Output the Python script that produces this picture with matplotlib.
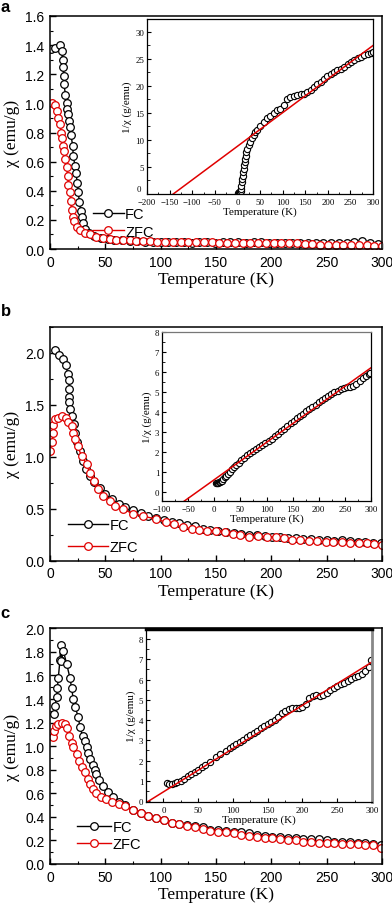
import numpy as np
import matplotlib
matplotlib.use("Agg")
import matplotlib.pyplot as plt
from matplotlib.ticker import MultipleLocator

# ---- panel a : chi(T) ----
a_fc_T = [1, 4.5, 9, 10.5, 11.4, 12, 12.3, 12.6, 14, 15, 15.3, 16.6, 17.2, 18, 19, 20.5, 21, 22.6, 23.5, 24.7,
          25.6, 26.5, 28, 28.6, 30, 32, 35, 40, 46, 52, 58, 65, 72, 79, 86, 93, 100, 107, 114, 121,
          128, 135, 142, 149, 156, 163, 170, 177, 184, 191, 198, 205, 212, 219, 226, 233, 240, 247, 254, 261,
          268, 275, 282, 289, 296]
a_fc_chi = [1.37, 1.38, 1.40, 1.36, 1.30, 1.25, 1.19, 1.13, 1.06, 1.00, 0.96, 0.93, 0.88, 0.84, 0.78, 0.71, 0.64, 0.57, 0.52, 0.45,
            0.39, 0.32, 0.26, 0.22, 0.18, 0.14, 0.11, 0.09, 0.075, 0.07, 0.065, 0.06, 0.058, 0.055, 0.05, 0.048, 0.046, 0.045, 0.045, 0.046,
            0.044, 0.045, 0.046, 0.044, 0.045, 0.046, 0.045, 0.044, 0.045, 0.046, 0.044, 0.043, 0.044, 0.042, 0.043, 0.041, 0.040, 0.041, 0.040, 0.042,
            0.043, 0.048, 0.052, 0.040, 0.036]
a_zfc_T = [1.5, 4.5, 6, 7.5, 9, 10, 10.5, 12, 13, 14, 15, 16, 16.6, 18, 18.6, 19.5, 20.5, 21.7, 24, 27,
           32, 36, 42, 48, 54, 60, 66, 72, 78, 84, 90, 97, 104, 111, 118, 125, 132, 139, 146, 153,
           160, 167, 174, 181, 188, 195, 202, 209, 216, 223, 230, 237, 244, 251, 258, 265, 272, 279, 286, 293, 300]
a_zfc_chi = [1.00, 0.99, 0.95, 0.90, 0.86, 0.80, 0.76, 0.71, 0.67, 0.62, 0.56, 0.50, 0.44, 0.39, 0.33, 0.27, 0.22, 0.19, 0.15, 0.13,
             0.11, 0.10, 0.085, 0.075, 0.07, 0.065, 0.062, 0.06, 0.058, 0.055, 0.052, 0.05, 0.048, 0.048, 0.047, 0.046, 0.046, 0.045, 0.045, 0.044,
             0.044, 0.043, 0.043, 0.042, 0.042, 0.041, 0.041, 0.040, 0.040, 0.038, 0.036, 0.034, 0.030, 0.027, 0.026, 0.026, 0.025, 0.026, 0.025, 0.024, 0.024]
# inset a : 1/chi
a_inv_T = [2, 4, 6, 7, 8, 9, 10, 11, 12, 13, 14, 15, 16, 17, 18, 20, 22, 25, 28, 32,
           36, 40, 44, 50, 58, 66, 73, 80, 88, 95, 102, 110, 117, 125, 132, 140, 147, 155, 162, 170,
           177, 184, 191, 199, 206, 213, 221, 229, 236, 244, 251, 258, 266, 273, 281, 288, 295, 299]
a_inv = [0.1, 0.3, 0.4, 0.6, 1.0, 1.5, 2.2, 2.8, 3.4, 4.0, 4.6, 5.3, 5.9, 6.5, 7.0, 7.8, 8.4, 9.0, 9.6, 10.3,
         10.9, 11.5, 11.9, 12.5, 13.4, 14.0, 14.5, 15.0, 15.5, 15.8, 16.5, 17.6, 17.9, 18.2, 18.4, 18.5, 18.5, 18.8, 19.2, 19.8,
         20.3, 20.8, 21.3, 21.9, 22.3, 22.6, 22.9, 23.2, 23.5, 24.0, 24.5, 24.8, 25.1, 25.4, 25.7, 25.9, 26.1, 26.3]
a_fit = (0.0622, -142)  # slope, x-intercept

# ---- panel b ----
b_fc_T = [4.5, 8.4, 12, 14.5, 16, 17, 17.5, 17, 17.5, 18, 19.6, 21.7, 22.6, 24, 27, 30, 32.5, 36, 40, 45,
          50, 56, 62, 68, 75, 82, 89, 96, 103, 110, 117, 124, 131, 138, 145, 152, 159, 166, 173, 180,
          187, 194, 201, 208, 215, 222, 229, 236, 243, 250, 257, 264, 271, 278, 285, 292, 299]
b_fc_chi = [2.025, 1.98, 1.94, 1.88, 1.80, 1.74, 1.65, 1.58, 1.53, 1.46, 1.39, 1.32, 1.23, 1.14, 1.06, 0.96, 0.88, 0.82, 0.76, 0.70,
            0.64, 0.59, 0.55, 0.52, 0.49, 0.46, 0.43, 0.41, 0.39, 0.37, 0.36, 0.34, 0.33, 0.31, 0.30, 0.29, 0.28, 0.27, 0.26, 0.25,
            0.25, 0.24, 0.23, 0.23, 0.22, 0.22, 0.21, 0.21, 0.20, 0.20, 0.19, 0.20, 0.19, 0.18, 0.18, 0.17, 0.17]
b_zfc_T = [0, 1.5, 3, 3, 4.5, 7.5, 10.5, 14.5, 16.5, 19.6, 21, 22.6, 25, 28.5, 33, 36, 39.8, 43.7, 48, 54,
           58.7, 66, 75, 84, 96, 105, 112, 120, 128, 135, 142, 150, 158, 165, 172, 180, 188, 196, 204, 211,
           219, 226, 234, 241, 249, 256, 264, 271, 279, 286, 293, 300]
b_zfc_chi = [1.06, 1.14, 1.23, 1.31, 1.36, 1.37, 1.39, 1.37, 1.34, 1.30, 1.23, 1.17, 1.10, 1.01, 0.93, 0.84, 0.77, 0.69, 0.62, 0.57,
             0.53, 0.50, 0.45, 0.43, 0.40, 0.37, 0.35, 0.32, 0.31, 0.30, 0.29, 0.29, 0.28, 0.26, 0.25, 0.23, 0.24, 0.23, 0.23, 0.22,
             0.20, 0.20, 0.19, 0.19, 0.18, 0.18, 0.18, 0.17, 0.17, 0.17, 0.16, 0.15]
b_inv_T = [3, 5, 7, 9, 11, 13, 15, 17, 20, 23, 26, 30, 34, 38, 42, 47, 52, 57, 62, 68,
           74, 80, 86, 92, 98, 104, 110, 116, 122, 128, 134, 140, 146, 152, 158, 164, 170, 176, 182, 188,
           194, 200, 206, 212, 218, 224, 230, 236, 242, 248, 254, 260, 266, 272, 278, 284, 290, 296, 299]
b_inv = [0.45, 0.42, 0.45, 0.48, 0.50, 0.52, 0.55, 0.62, 0.72, 0.80, 0.88, 1.0, 1.12, 1.22, 1.32, 1.45, 1.58, 1.70, 1.82, 1.95,
         2.05, 2.15, 2.25, 2.35, 2.45, 2.55, 2.65, 2.78, 2.90, 3.02, 3.15, 3.28, 3.42, 3.55, 3.67, 3.78, 3.90, 4.02, 4.12, 4.25,
         4.35, 4.48, 4.58, 4.68, 4.78, 4.88, 4.97, 5.05, 5.12, 5.20, 5.24, 5.26, 5.30, 5.40, 5.55, 5.68, 5.80, 5.90, 5.96]
b_fit = (0.0187, -32)

# ---- panel c ----
c_fc_T = [3.9, 4.5, 6, 6.6, 7.5, 9, 9.6, 10.2, 12, 15, 18, 19.6, 21, 22.6, 25.6, 27, 29.4, 31.6, 33, 34.5,
          36, 39, 40.6, 42, 44.5, 48, 52, 57, 62, 68, 75, 82, 89, 96, 103, 110, 117, 124, 131, 138,
          145, 152, 159, 166, 173, 180, 187, 194, 201, 208, 215, 222, 229, 236, 243, 250, 257, 264, 271, 278,
          285, 292, 299]
c_fc_chi = [1.27, 1.34, 1.42, 1.49, 1.58, 1.73, 1.86, 1.72, 1.81, 1.70, 1.58, 1.49, 1.40, 1.33, 1.25, 1.16, 1.09, 1.04, 0.99, 0.94,
            0.89, 0.84, 0.80, 0.76, 0.71, 0.66, 0.61, 0.57, 0.53, 0.50, 0.46, 0.43, 0.41, 0.39, 0.37, 0.35, 0.34, 0.33, 0.32, 0.31,
            0.29, 0.29, 0.28, 0.27, 0.27, 0.26, 0.25, 0.24, 0.23, 0.23, 0.22, 0.22, 0.21, 0.21, 0.21, 0.20, 0.19, 0.19, 0.19, 0.18,
            0.18, 0.17, 0.16]
c_zfc_T = [3, 3.6, 5.4, 7.5, 10.5, 13.5, 15, 17.5, 19.6, 21, 24, 26.5, 28.6, 31.6, 34.5, 36, 39, 42, 46.5, 51,
           56, 62, 68, 75, 82, 89, 96, 103, 110, 117, 124, 131, 138, 145, 152, 159, 166, 173, 180, 187,
           194, 201, 208, 215, 222, 229, 236, 243, 250, 257, 264, 271, 278, 285, 292, 299]
c_zfc_chi = [1.08, 1.13, 1.17, 1.19, 1.20, 1.19, 1.15, 1.09, 1.03, 0.99, 0.93, 0.87, 0.82, 0.78, 0.72, 0.68, 0.64, 0.60, 0.57, 0.55,
             0.53, 0.51, 0.49, 0.46, 0.43, 0.41, 0.39, 0.37, 0.35, 0.34, 0.32, 0.31, 0.30, 0.28, 0.27, 0.27, 0.26, 0.25, 0.24, 0.23,
             0.22, 0.22, 0.21, 0.20, 0.20, 0.19, 0.19, 0.18, 0.18, 0.18, 0.17, 0.17, 0.17, 0.16, 0.16, 0.14]
c_inv_T = [5, 8, 12, 16, 20, 25, 30, 35, 40, 45, 50, 55, 60, 67, 75, 82, 90, 96, 100, 105,
           110, 115, 120, 125, 130, 135, 140, 145, 150, 155, 160, 165, 170, 175, 180, 185, 190, 195, 200, 205,
           210, 215, 220, 225, 230, 235, 240, 245, 250, 255, 260, 265, 270, 275, 280, 285, 290, 295, 299]
c_inv = [0.90, 0.82, 0.85, 0.88, 0.92, 1.00, 1.10, 1.22, 1.35, 1.45, 1.55, 1.68, 1.80, 1.95, 2.15, 2.30, 2.48, 2.60, 2.70, 2.80,
         2.90, 3.02, 3.15, 3.25, 3.35, 3.48, 3.60, 3.70, 3.80, 3.88, 4.00, 4.15, 4.35, 4.45, 4.55, 4.60, 4.60, 4.62, 4.65, 4.80,
         5.10, 5.20, 5.22, 5.20, 5.25, 5.35, 5.50, 5.60, 5.70, 5.78, 5.85, 5.95, 6.05, 6.12, 6.20, 6.28, 6.40, 6.60, 6.95]
c_fit = (0.0214, -21)

SANS = "Liberation Sans"
SERIF = "Liberation Serif"

fig = plt.figure(figsize=(3.92, 9.04), dpi=100)


def main_panel(rect, fc_T, fc_chi, zfc_T, zfc_chi, ylim, ymajor, yminor, leg_anchor, leg_spacing, handlelen, letter, letter_y):
    ax = fig.add_axes(rect)
    ax.plot(fc_T, fc_chi, color="black", lw=1.0, marker="o", ms=5.5, mfc="white", mec="black", mew=0.9, label="FC")
    ax.plot(zfc_T, zfc_chi, color="#e00000", lw=1.0, marker="o", ms=5.5, mfc="white", mec="#e00000", mew=0.9, label="ZFC")
    ax.set_xlim(0, 300)
    ax.set_ylim(*ylim)
    ax.xaxis.set_major_locator(MultipleLocator(50))
    ax.xaxis.set_minor_locator(MultipleLocator(25))
    ax.yaxis.set_major_locator(MultipleLocator(ymajor))
    ax.yaxis.set_minor_locator(MultipleLocator(yminor))
    ax.tick_params(which="both", direction="in", top=False, right=False, labelsize=10, pad=4)
    ax.tick_params(which="major", length=4, width=1)
    ax.tick_params(which="minor", length=2.5, width=0.8)
    for lab in ax.get_xticklabels() + ax.get_yticklabels():
        lab.set_fontfamily(SANS)
    for s in ax.spines.values():
        s.set_linewidth(1.1)
    ax.set_xlabel("Temperature (K)", fontfamily=SERIF, fontsize=12.5, labelpad=2)
    ax.set_ylabel("χ (emu/g)", fontfamily=SERIF, fontsize=12.5, labelpad=4)
    ax.legend(loc="lower left", bbox_to_anchor=leg_anchor, frameon=False, borderpad=0, borderaxespad=0,
              handlelength=handlelen, handletextpad=0.1, labelspacing=leg_spacing,
              prop={"family": SANS, "size": 10.5})
    fig.text(0.002, letter_y, letter, fontfamily=SANS, fontweight="bold", fontsize=12, va="center", ha="left")
    return ax


def inset_panel(rect, T, inv, fit, xlim, ylim, xmajor, ymajor, yminor):
    ax = fig.add_axes(rect)
    ax.plot(T, inv, ls="none", marker="o", ms=4.5, mfc="white", mec="black", mew=0.8)
    xl = np.array(xlim, dtype=float)
    ax.plot(xl, fit[0] * (xl - fit[1]), color="#e00000", lw=1.1)
    ax.set_xlim(*xlim)
    ax.set_ylim(*ylim)
    ax.xaxis.set_major_locator(MultipleLocator(xmajor))
    ax.xaxis.set_minor_locator(MultipleLocator(xmajor / 2))
    ax.yaxis.set_major_locator(MultipleLocator(ymajor))
    ax.yaxis.set_minor_locator(MultipleLocator(yminor))
    ax.tick_params(which="both", direction="in", top=False, right=False, labelsize=6.3, pad=2)
    ax.tick_params(axis="x", pad=3)
    ax.tick_params(which="major", length=3, width=0.8)
    ax.tick_params(which="minor", length=1.8, width=0.6)
    for lab in ax.get_xticklabels() + ax.get_yticklabels():
        lab.set_fontfamily(SERIF)
    for s in ax.spines.values():
        s.set_linewidth(0.9)
    ax.set_xlabel("Temperature (K)", fontfamily=SERIF, fontsize=8, labelpad=0)
    ax.set_ylabel("1/χ (g/emu)", fontfamily=SERIF, fontsize=8, labelpad=2)
    return ax


W, H = 392.0, 904.0


def frac(l, r, t, b):
    return [l / W, 1 - b / H, (r - l) / W, (b - t) / H]


main_panel(frac(50, 382, 17, 250), a_fc_T, a_fc_chi, a_zfc_T, a_zfc_chi, (0, 1.6), 0.2, 0.1,
           (0.13, 0.045), 0.22, 2.1, "a", 1 - 8 / H)
ins_a = inset_panel(frac(147, 373, 20, 195), a_inv_T, a_inv, a_fit, (-200, 300), (0, 32.4), 50, 5, 2.5)
ins_a.set_yticks([5, 10, 15, 20, 25, 30])
ins_a.text(-0.025, 0.004, "0", transform=ins_a.transAxes, ha="right", va="bottom", fontfamily=SERIF, fontsize=6.3)

main_panel(frac(50, 382, 328, 561.7), b_fc_T, b_fc_chi, b_zfc_T, b_zfc_chi, (0, 2.25), 0.5, 0.25,
           (0.054, 0.03), 0.5, 2.75, "b", 1 - 311 / H)
ins_b = inset_panel(frac(162, 371, 333, 502), b_inv_T, b_inv, b_fit, (-100, 300), (-0.47, 8), 50, 1, 0.5)
ins_b.spines["top"].set_color("#777777")

main_panel(frac(50, 382, 629.3, 865), c_fc_T, c_fc_chi, c_zfc_T, c_zfc_chi, (0, 2.0), 0.2, 0.1,
           (0.081, 0.055), 0.2, 2.35, "c", 1 - 614 / H)
ins_c = inset_panel(frac(146, 372, 630, 803), c_inv_T, c_inv, c_fit, (-25, 300), (-0.05, 8.5), 50, 1, 0.5)
ins_c.spines["top"].set_linewidth(2.5)
ins_c.spines["right"].set_linewidth(2.0)
ins_c.spines["right"].set_color("#888888")

fig.savefig("out.png", dpi=100)
